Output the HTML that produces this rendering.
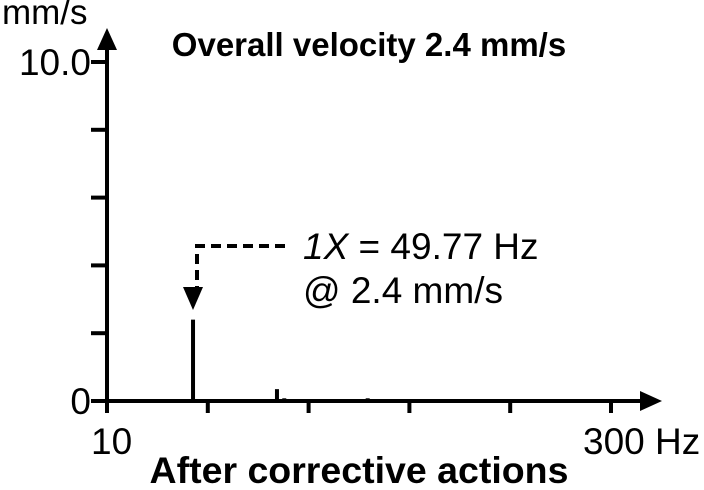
<!DOCTYPE html>
<html><head><meta charset="utf-8"><style>
html,body{margin:0;padding:0;background:#fff;}
svg{display:block;font-family:"Liberation Sans",Arial,sans-serif;}
</style></head><body>
<svg id="chart" width="704" height="490" viewBox="0 0 704 490">
<text x="2" y="24" font-size="35">mm/s</text>
<text x="369" y="56" font-size="33" font-weight="bold" text-anchor="middle">Overall velocity 2.4 mm/s</text>
<text x="359" y="483" font-size="37.5" font-weight="bold" text-anchor="middle">After corrective actions</text>
<g id="axes"></g>
<g id="marks"></g>
<g>
<path d="M285 246 H197 V290" fill="none" stroke="#000" stroke-width="4" stroke-dasharray="10,6"/>
<polygon points="183,287 203,287 193,310" fill="#000"/>
<text x="303" y="259" font-size="37"><tspan font-style="italic">1X</tspan> = 49.77 Hz</text>
<text x="303" y="303" font-size="37">@ 2.4 mm/s</text>
</g>
</svg>
<script>
const freqs = [25, 55, 59.5, 107.8, 112, 160, 205, 245, 295];
const amps  = [0.05, 0.05, 2.4, 0.35, 0.08, 0.08, 0.05, 0.05, 0.05];
const yTicks = [0, 2, 4, 6, 8, 10];
const yTickLabels = ["0", "", "", "", "", "10.0"];
const xTicks = [10, 68, 126, 184, 242, 300];
const xTickLabels = ["10", "", "", "", "", "300 Hz"];
const X0=107, X1=611, Y0=401, Y1=62;
const xs = f => X0 + (f-10)/(300-10)*(X1-X0);
const ys = v => Y0 - v/10*(Y0-Y1);
const NS="http://www.w3.org/2000/svg";
function mk(tag, attrs, parent){const e=document.createElementNS(NS,tag);for(const k in attrs)e.setAttribute(k,attrs[k]);parent.appendChild(e);return e;}
const axes=document.getElementById('axes'), marks=document.getElementById('marks');
let e;
e=mk('line',{x1:X0,y1:Y0+2,x2:X0,y2:45,stroke:'#000','stroke-width':4},axes);


e=mk('polygon',{points:`${X0-10},50 ${X0+10},50 ${X0},28`,fill:'#000'},axes);


e=mk('line',{x1:X0-10,y1:Y0,x2:645,y2:Y0,stroke:'#000','stroke-width':4},axes);


e=mk('polygon',{points:`640,${Y0-10} 640,${Y0+10} 662,${Y0}`,fill:'#000'},axes);


yTicks.forEach((t,i)=>{
  const y=ys(t);
  let l=mk('line',{x1:X0-16,y1:y,x2:X0,y2:y,stroke:'#000','stroke-width':4},axes);
  
  
  if(yTickLabels[i]){
    let tx=mk('text',{x:X0-16,y:y+13,'font-size':37,'text-anchor':'end'},axes);
    tx.textContent=yTickLabels[i];
    
    
  }
});
xTicks.forEach((t,i)=>{
  const x=xs(t);
  let l=mk('line',{x1:x,y1:Y0,x2:x,y2:Y0+12,stroke:'#000','stroke-width':4},axes);
  
  
  if(xTickLabels[i]){
    let tx=mk('text',{x:i==0?x-16:x-28,y:454,'font-size':37},axes);
    tx.textContent=xTickLabels[i];
    
    
  }
});
freqs.forEach((f,i)=>{
  let l=mk('line',{x1:xs(f),y1:Y0,x2:xs(f),y2:ys(amps[i]),stroke:'#000','stroke-width':4},marks);
  
  
});
</script>
</body></html>
